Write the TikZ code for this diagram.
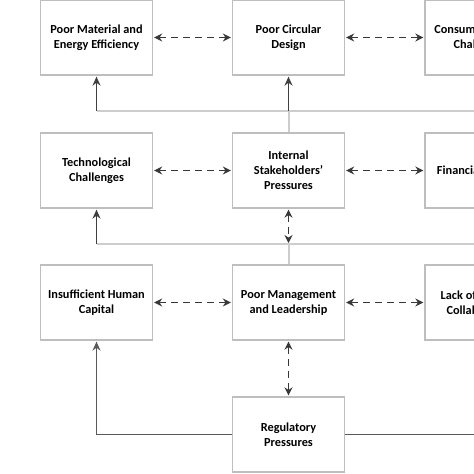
\documentclass[tikz,border=0pt]{standalone}
\usepackage{fontspec}
\setmainfont{Carlito}
\usetikzlibrary{arrows.meta}
\begin{document}
\begin{tikzpicture}[x=1pt,y=-1pt,
  box/.style={draw=boxgray,line width=1.3pt,minimum width=112pt,minimum height=75pt,inner sep=2pt,
    align=center,font=\fontsize{12.3}{15}\selectfont\bfseries,text=black},
  dasharrow/.style={draw=black!78,line width=1.5pt,dash pattern=on 7pt off 5pt,
    {Stealth[length=8pt,width=8pt]}-{Stealth[length=8pt,width=8pt]},shorten <=1pt,shorten >=1pt},
  darkarrow/.style={draw=black!75,line width=1.5pt,-{Stealth[length=9pt,width=8pt]},shorten >=1pt},
  graybus/.style={draw=busgray,line width=2pt},
  darkbus/.style={draw=black!65,line width=1.7pt}]
\definecolor{boxgray}{RGB}{190,190,190}
\definecolor{busgray}{RGB}{205,205,205}
\useasboundingbox (0,0) rectangle (474,474);
\clip (0,0) rectangle (474,474);
% boxes
\node[box] (pmee) at (96.5,37.5) {Poor Material and\\Energy Efficiency};
\node[box] (pcd) at (288.5,37.5) {Poor Circular\\Design};
\node[box] (cons) at (481,37.5) {Consumer Related\\Challenges};
\node[box] (tech) at (96.5,170.5) {Technological\\Challenges};
\node[box] (isp) at (288.5,170.5) {Internal\\Stakeholders'\\Pressures};
\node[box] (fin) at (481,170.5) {Financial Barriers};
\node[box] (ihc) at (96.5,302.5) {Insufficient Human\\Capital};
\node[box] (pml) at (288.5,302.5) {Poor Management\\and Leadership};
\node[box] (lack) at (481,302.5) {Lack of Supplier\\Collaboration};
\node[box] (reg) at (288.5,434.5) {Regulatory\\Pressures};
% bus coordinates
\coordinate (b1l) at (96.5,111);
\coordinate (b1m) at (288.5,111);
\coordinate (b1r) at (481,111);
\coordinate (b2l) at (96.5,244);
\coordinate (b2m) at (288.5,244);
\coordinate (b2r) at (481,244);
\coordinate (b3l) at (96.5,434.5);
\coordinate (b3r) at (481,434.5);
% row 1 bus
\draw[graybus] (b1l) -- (b1r);
\draw[graybus] (isp.north) -- (b1m);
\draw[darkarrow] (b1l) -- (pmee.south);
\draw[darkarrow] (b1m) -- (pcd.south);
\draw[darkarrow] (b1r) -- (cons.south);
% row 2 bus
\draw[graybus] (b2l) -- (b2r);
\draw[graybus] (b2m) -- (pml.north);
\draw[darkarrow] (b2l) -- (tech.south);
\draw[darkarrow] (b2r) -- (fin.south);
\draw[dasharrow] (isp.south) -- (b2m);
% regulatory bus
\draw[darkbus] (reg.west) -- (b3l);
\draw[darkarrow,line width=1.7pt,draw=black!65] (b3l) -- (ihc.south);
\draw[darkbus] (reg.east) -- (b3r);
\draw[darkarrow,line width=1.7pt,draw=black!65] (b3r) -- (lack.south);
% dashed links
\draw[dasharrow] (pmee) -- (pcd);
\draw[dasharrow] (pcd) -- (cons);
\draw[dasharrow] (tech) -- (isp);
\draw[dasharrow] (isp) -- (fin);
\draw[dasharrow] (ihc) -- (pml);
\draw[dasharrow] (pml) -- (lack);
\draw[dasharrow] (pml) -- (reg);
\end{tikzpicture}
\end{document}
